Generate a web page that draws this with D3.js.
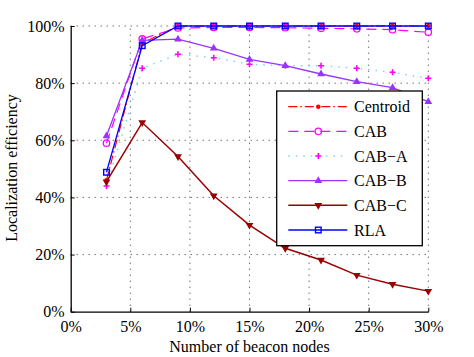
<!DOCTYPE html>
<html><head><meta charset="utf-8">
<script src="https://cdn.jsdelivr.net/npm/d3@7"></script>
<style>body{margin:0;background:#fff}svg{display:block}text{font-family:"Liberation Serif","Times New Roman",serif;fill:#000}</style>
</head><body><svg id="c" width="474" height="357"></svg>
<script>
const beacons = [3, 6, 9, 12, 15, 18, 21, 24, 27, 30];
const seriesNames = ["Centroid", "CAB", "CAB\u2212A", "CAB\u2212B", "CAB\u2212C", "RLA"];
const centroid = [46, 94, 100, 100, 100, 100, 100, 100, 100, 100];
const cab      = [59, 95.5, 99.3, 99.5, 99.5, 99.4, 99.2, 99, 98.7, 97.8];
const cabA     = [44, 85.2, 90.1, 88.9, 86.6, 86.1, 86.1, 85.2, 83.8, 81.7];
const cabB     = [61.5, 95, 95.4, 92.2, 88.3, 86.1, 83.2, 80.5, 78.4, 73.5];
const cabC     = [45.5, 66.2, 54.3, 40.6, 30.3, 22.2, 18.1, 12.8, 9.6, 7.2];
const rla      = [48.8, 93.1, 100, 100, 100, 100, 100, 100, 100, 100];
const xTicks = [0, 5, 10, 15, 20, 25, 30];
const yTicks = [0, 20, 40, 60, 80, 100];

const svg = d3.select("#c");
const x = d3.scaleLinear().domain([0, 30]).range([70.7, 428.3]);
const y = d3.scaleLinear().domain([0, 100]).range([311.7, 26]);

// grid
const g = svg.append("g");
g.selectAll(".gx").data(xTicks.slice(1)).enter().append("line")
  .attr("x1", d => x(d)).attr("x2", d => x(d)).attr("y1", y(0)).attr("y2", y(100))
  .attr("stroke", "#333").attr("stroke-width", 1).attr("stroke-dasharray", "1,5");
g.selectAll(".gy").data(yTicks.slice(1)).enter().append("line")
  .attr("y1", d => y(d)).attr("y2", d => y(d)).attr("x1", x(0)).attr("x2", x(30))
  .attr("stroke", "#333").attr("stroke-width", 1).attr("stroke-dasharray", "1,5");

// axes
const xAxis = d3.axisBottom(x).tickValues(xTicks).tickFormat(d => d + "%").tickSizeInner(-4).tickSizeOuter(0).tickPadding(9);
const yAxis = d3.axisLeft(y).tickValues(yTicks).tickFormat(d => d + "%").tickSizeInner(-4).tickSizeOuter(0).tickPadding(6);
const ax = svg.append("g").attr("transform", `translate(0,${y(0)})`).call(xAxis);
const ay = svg.append("g").attr("transform", `translate(${x(0)},0)`).call(yAxis);
[ax, ay].forEach(a => {
  a.select(".domain").attr("stroke", "#000").attr("stroke-width", 1.3);
  a.selectAll(".tick line").attr("stroke", "#000");
  a.selectAll("text").style("font-size", "16px").attr("fill", "#000");
});

svg.append("text").attr("x", x(15)).attr("y", 352).attr("text-anchor", "middle")
  .style("font-size", "16px").text("Number of beacon nodes");
svg.append("text").attr("transform", "translate(17,168) rotate(-90)").attr("text-anchor", "middle")
  .style("font-size", "16px").text("Localization efficiency");

const styles = [
  {name: seriesNames[0], data: centroid, color: "#ff0000", dash: "9,3,1.5,3", width: 1.2, marker: "dot", mcolor: "#ff0000"},
  {name: seriesNames[1], data: cab, color: "#ff00ff", dash: "10,6", width: 1.2, marker: "circle", mcolor: "#ff00ff"},
  {name: seriesNames[2], data: cabA, color: "#7fd4e8", dash: "1.5,6", width: 1.5, marker: "plus", mcolor: "#ff00ff"},
  {name: seriesNames[3], data: cabB, color: "#9933ff", dash: null, width: 1.3, marker: "tri", mcolor: "#9933ff"},
  {name: seriesNames[4], data: cabC, color: "#990000", dash: null, width: 1.5, marker: "trid", mcolor: "#990000"},
  {name: seriesNames[5], data: rla, color: "#0000ff", dash: null, width: 1.3, marker: "square", mcolor: "#0000ff"}
];

function drawMarker(sel, type, color) {
  if (type === "dot") {
    sel.append("circle").attr("r", 2.3).attr("fill", color);
  } else if (type === "circle") {
    sel.append("circle").attr("r", 3.2).attr("fill", "none").attr("stroke", color).attr("stroke-width", 1.3);
  } else if (type === "plus") {
    sel.append("path").attr("d", "M-3,0H3M0,-3V3").attr("stroke", color).attr("stroke-width", 1.6);
  } else if (type === "tri") {
    sel.append("path").attr("d", d3.symbol(d3.symbolTriangle, 26)()).attr("fill", color);
  } else if (type === "trid") {
    sel.append("path").attr("d", d3.symbol(d3.symbolTriangle, 26)()).attr("transform", "rotate(180)").attr("fill", color);
  } else if (type === "square") {
    sel.append("rect").attr("x", -2.8).attr("y", -2.8).attr("width", 5.6).attr("height", 5.6)
      .attr("fill", "none").attr("stroke", color).attr("stroke-width", 1.4);
  }
}

const line = d3.line().x((d, i) => x(beacons[i])).y(d => y(d));
styles.forEach(s => {
  svg.append("path").datum(s.data).attr("d", line).attr("fill", "none")
    .attr("stroke", s.color).attr("stroke-width", s.width)
    .attr("stroke-dasharray", s.dash);
  s.data.forEach((v, i) => {
    const m = svg.append("g").attr("transform", `translate(${x(beacons[i])},${y(v)})`);
    drawMarker(m, s.marker, s.mcolor);
  });
});

// legend
const lg = svg.append("g");
lg.append("rect").attr("x", 276.7).attr("y", 91).attr("width", 145.6).attr("height", 154.7)
  .attr("fill", "#fff").attr("stroke", "#000").attr("stroke-width", 1.3);
styles.forEach((s, i) => {
  const yy = 106.7 + i * 24.66;
  lg.append("line").attr("x1", 288.3).attr("x2", 347.3).attr("y1", yy).attr("y2", yy)
    .attr("stroke", s.color).attr("stroke-width", s.width).attr("stroke-dasharray", s.dash);
  const m = lg.append("g").attr("transform", `translate(318.3,${yy})`);
  drawMarker(m, s.marker, s.mcolor);
  lg.append("text").attr("x", 354).attr("y", yy + 5.5).style("font-size", "16px").text(s.name);
});
</script></body></html>
